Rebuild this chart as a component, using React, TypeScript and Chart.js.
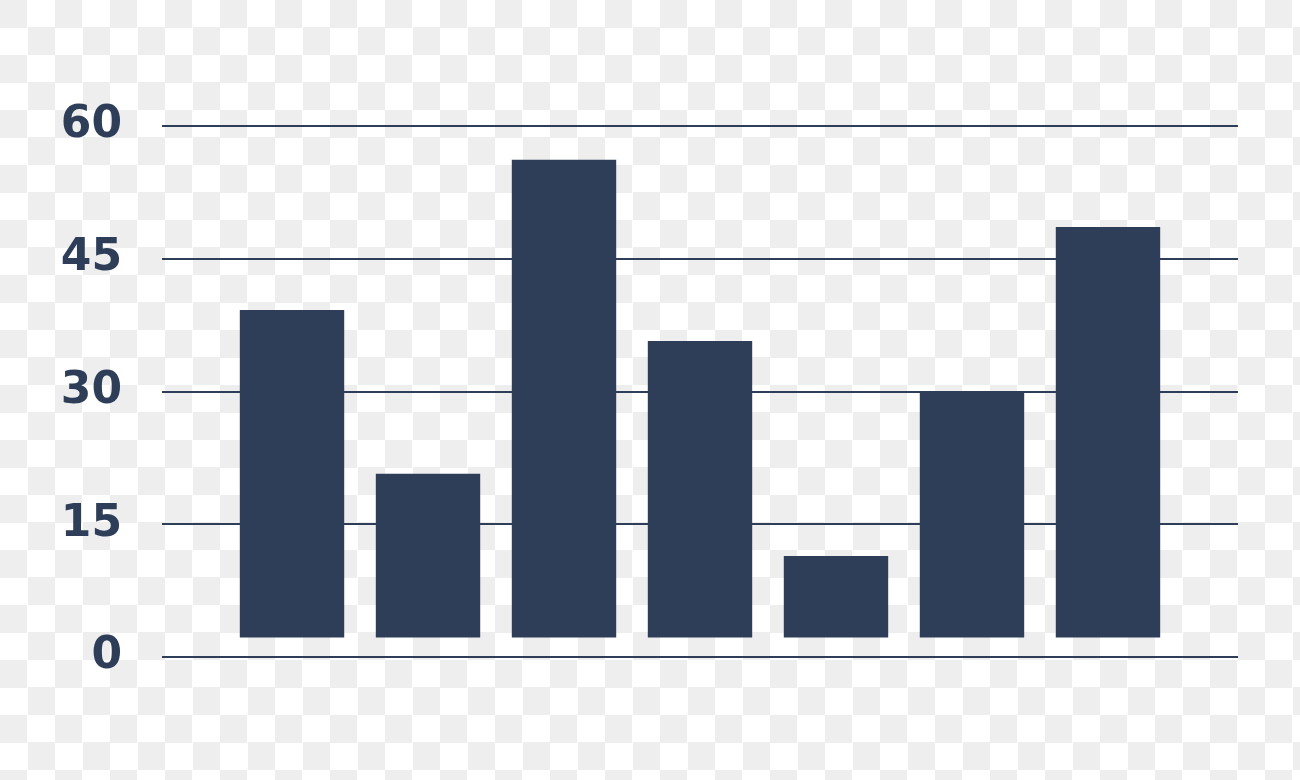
import React, { useEffect, useRef } from "react";
import { Chart, registerables } from "chart.js";

Chart.register(...registerables);

// bar positions (0..6) and their top values
const positions = [0, 1, 2, 3, 4, 5, 6];
const values = [39.2, 20.7, 56.2, 35.7, 11.4, 30.0, 48.6];
// the bars do not start at zero, they float a little above the base line
const barBase = 2.2;
const yTicks = [0, 15, 30, 45, 60];

const NAVY = "#2E3E58";

const App: React.FC = () => {
  const chartRef = useRef<HTMLCanvasElement>(null);

  useEffect(() => {
    if (!chartRef.current) return;
    const ctx = chartRef.current.getContext("2d");
    if (!ctx) return;

    const chart = new Chart(ctx, {
      type: "bar",
      data: {
        datasets: [
          {
            data: positions.map((x, i) => ({ x, y: values[i] })),
            backgroundColor: NAVY,
            borderWidth: 0,
            base: barBase,
            barPercentage: 0.803,
            categoryPercentage: 1,
          } as any,
        ],
      },
      options: {
        animation: false,
        responsive: true,
        maintainAspectRatio: false,
        layout: {
          padding: { left: 0, top: 126, right: 62, bottom: 123 },
        },
        scales: {
          x: {
            type: "linear",
            display: false,
            offset: false,
            min: -0.956,
            max: 6.956,
          },
          y: {
            min: 0,
            max: 60,
            afterBuildTicks: (scale: any) => {
              scale.ticks = yTicks.map((v) => ({ value: v }));
            },
            afterFit: (scale: any) => {
              scale.width = 162;
            },
            border: { display: false },
            grid: {
              color: NAVY,
              lineWidth: 2,
              drawTicks: false,
            },
            ticks: {
              color: NAVY,
              padding: 40,
              font: { family: "'DejaVu Sans'", size: 44, weight: "bold" },
            },
          },
        },
        plugins: {
          legend: { display: false },
          tooltip: { enabled: false },
        },
      },
    });

    return () => chart.destroy();
  }, []);

  return (
    <div
      style={{
        position: "fixed",
        left: 0,
        top: 0,
        width: 1300,
        height: 780,
        background: "repeating-conic-gradient(#ffffff 0 25%, #eeeeee 0 50%) 0 0 / 55px 55px",
      }}
    >
      <canvas ref={chartRef}></canvas>
    </div>
  );
};

export default App;
